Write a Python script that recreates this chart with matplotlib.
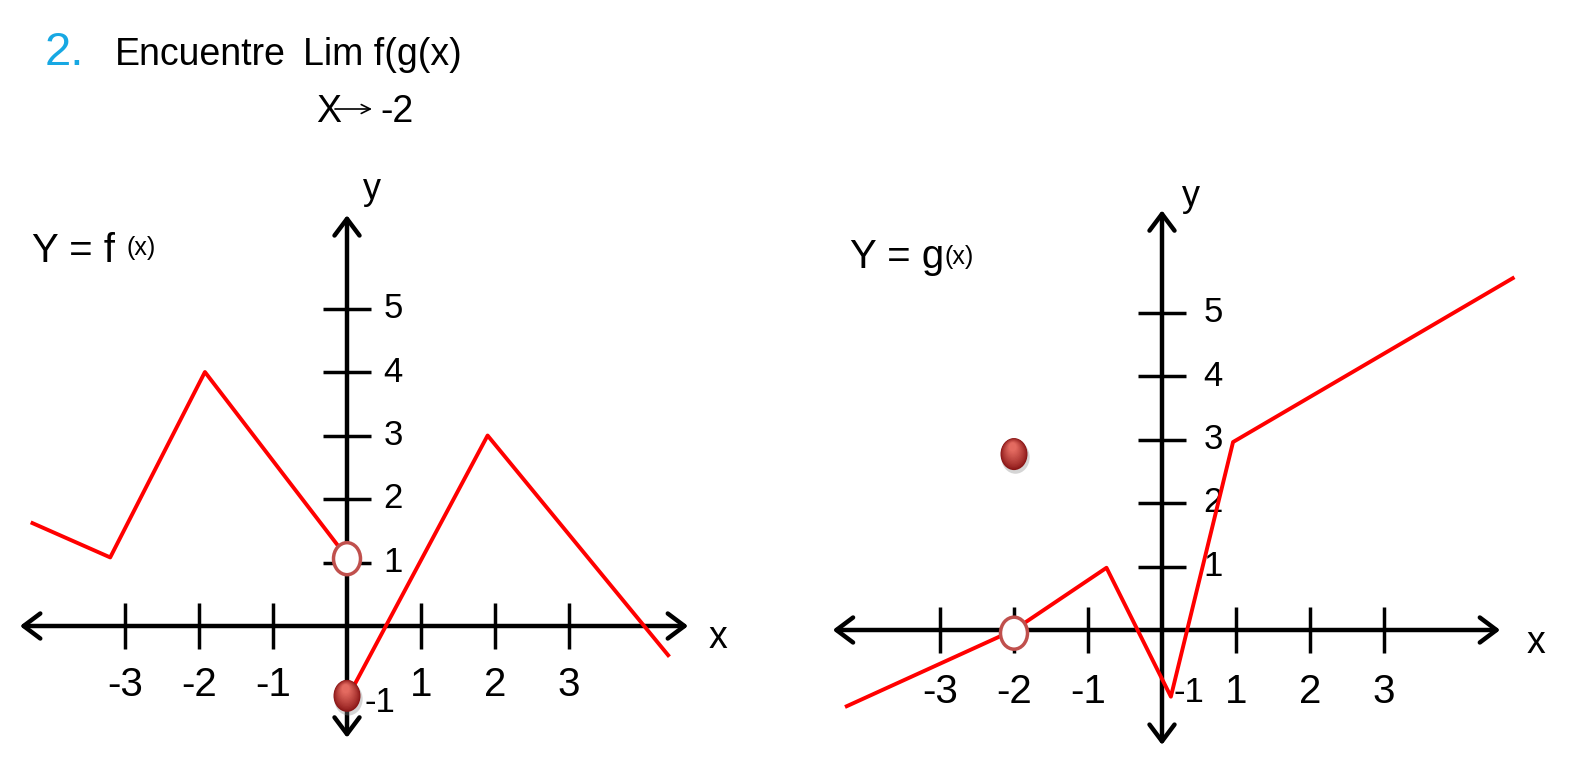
import numpy as np
import matplotlib.pyplot as plt
from matplotlib.patches import Ellipse
from matplotlib.colors import to_rgb

plt.rcParams['font.family'] = ['Liberation Sans', 'DejaVu Sans']

W, H = 1579, 770

# datos leidos de la figura
# f(x): dos tramos, con salto en x = 0
f1_x = [-4.25, -3.2, -1.92, 0.0]
f1_y = [1.62, 1.08, 4.0, 1.08]
f2_x = [0.03, 1.9, 4.34]
f2_y = [-1.08, 3.0, -0.46]
f_abierto = (0.0, 1.06)
f_lleno = (0.0, -1.1)

# g(x)
g_x = [-4.26, -2.0, -0.75, 0.12, 0.96, 4.74]
g_y = [-1.2, 0.0, 0.98, -1.05, 2.96, 5.54]
g_abierto = (-2.0, -0.05)
g_lleno = (-2.0, 2.77)

ticks_x = [-3, -2, -1, 1, 2, 3]
ticks_y = [1, 2, 3, 4, 5]

ROJO = '#FF0000'
BORDE = '#C0504D'
SX, SY = 74.0, 63.5  # pixeles por unidad


def ejes(fig, ox, oy):
    ax = fig.add_axes([0, 0, 1, 1])
    ax.set_xlim(-ox / SX, (W - ox) / SX)
    ax.set_ylim(-(H - oy) / SY, oy / SY)
    ax.patch.set_alpha(0)
    ax.axis('off')
    return ax


def flechas(ax, xa, xb, ya, yb):
    st = '<->,head_length=0.6,head_width=0.45'
    ax.annotate('', xy=(xb, 0), xytext=(xa, 0),
                arrowprops=dict(arrowstyle=st, lw=3.2, color='black',
                                shrinkA=0, shrinkB=0, mutation_scale=20))
    ax.annotate('', xy=(0, yb), xytext=(0, ya),
                arrowprops=dict(arrowstyle=st, lw=3.2, color='black',
                                shrinkA=0, shrinkB=0, mutation_scale=20))
    ax.vlines(ticks_x, -0.36, 0.36, color='black', lw=2.5)
    ax.hlines(ticks_y, -0.33, 0.33, color='black', lw=2.5)


def abierto(ax, p):
    ax.add_patch(Ellipse(p, 27 / SX, 32 / SY, facecolor='white',
                         edgecolor=BORDE, lw=2.5, zorder=6))


def bola(ax, p):
    x, y = p
    w, h = 27 / SX, 32 / SY
    ax.add_patch(Ellipse((x + 0.02, y - 0.05), w * 1.05, h * 1.03,
                         color='#888888', alpha=0.35, lw=0, zorder=5))
    c0, c1 = np.array(to_rgb('#8A1616')), np.array(to_rgb('#E36A60'))
    n = 14
    for i in range(n):
        t = i / (n - 1)
        s = 1 - 0.72 * t
        ax.add_patch(Ellipse((x - 0.05 * w * t, y + 0.22 * h * t), w * s, h * s,
                             color=c0 + (c1 - c0) * t ** 0.8, lw=0,
                             zorder=6 + i * 0.01))


fig = plt.figure(figsize=(W / 100, H / 100), dpi=100)

# ---- panel izquierdo: f(x)
ax1 = ejes(fig, 347, 626)
flechas(ax1, -4.42, 4.61, -1.76, 6.47)
for t in ticks_x:
    ax1.text(t, -0.93, str(t), fontsize=29, ha='center', va='center')
for t in ticks_y:
    ax1.text(0.49, t, str(t), fontsize=25, ha='left', va='center')
ax1.text(0.24, -1.2, '-1', fontsize=25, ha='left', va='center')
ax1.text(0.22, 6.72, 'y', fontsize=26, ha='left', va='baseline')
ax1.text(4.88, -0.35, 'x', fontsize=27, ha='left', va='baseline')
ax1.plot(f1_x, f1_y, color=ROJO, lw=2.8, zorder=4)
ax1.plot(f2_x, f2_y, color=ROJO, lw=2.8, zorder=4)
abierto(ax1, f_abierto)
bola(ax1, f_lleno)

# ---- panel derecho: g(x)
ax2 = ejes(fig, 1162, 630)
flechas(ax2, -4.45, 4.57, -1.81, 6.61)
for t in ticks_x:
    ax2.text(t, -0.97, str(t), fontsize=29, ha='center', va='center')
for t in ticks_y:
    ax2.text(0.56, t, str(t), fontsize=25, ha='left', va='center')
ax2.text(0.15, -0.99, '-1', fontsize=25, ha='left', va='center')
ax2.text(0.27, 6.68, 'y', fontsize=26, ha='left', va='baseline')
ax2.text(4.93, -0.36, 'x', fontsize=27, ha='left', va='baseline')
ax2.plot(g_x, g_y, color=ROJO, lw=2.8, zorder=4)
abierto(ax2, g_abierto)
bola(ax2, g_lleno)


# ---- textos de la diapositiva
def txt(px, py, s, **kw):
    fig.text(px / W, 1 - py / H, s, va='baseline', **kw)


txt(45, 65, '2.', fontsize=34, color='#17A8E3')
txt(115, 65, 'Encuentre', fontsize=27)
txt(303, 65, 'Lim f(g(x)', fontsize=27)
txt(316, 122, 'X', fontsize=27)
ax1.annotate('', xy=(372, H - 109), xytext=(335, H - 109), xycoords='figure pixels',
             arrowprops=dict(arrowstyle='->', lw=1.2, color='black',
                             shrinkA=0, shrinkB=0, mutation_scale=16))
txt(380, 122, '-2', fontsize=27)

txt(32, 262, 'Y = f', fontsize=29)
txt(127, 255, '(x)', fontsize=18)
txt(850, 268, 'Y = g', fontsize=29)
txt(945, 264, '(x)', fontsize=18)

fig.savefig('out.png', dpi=100)
